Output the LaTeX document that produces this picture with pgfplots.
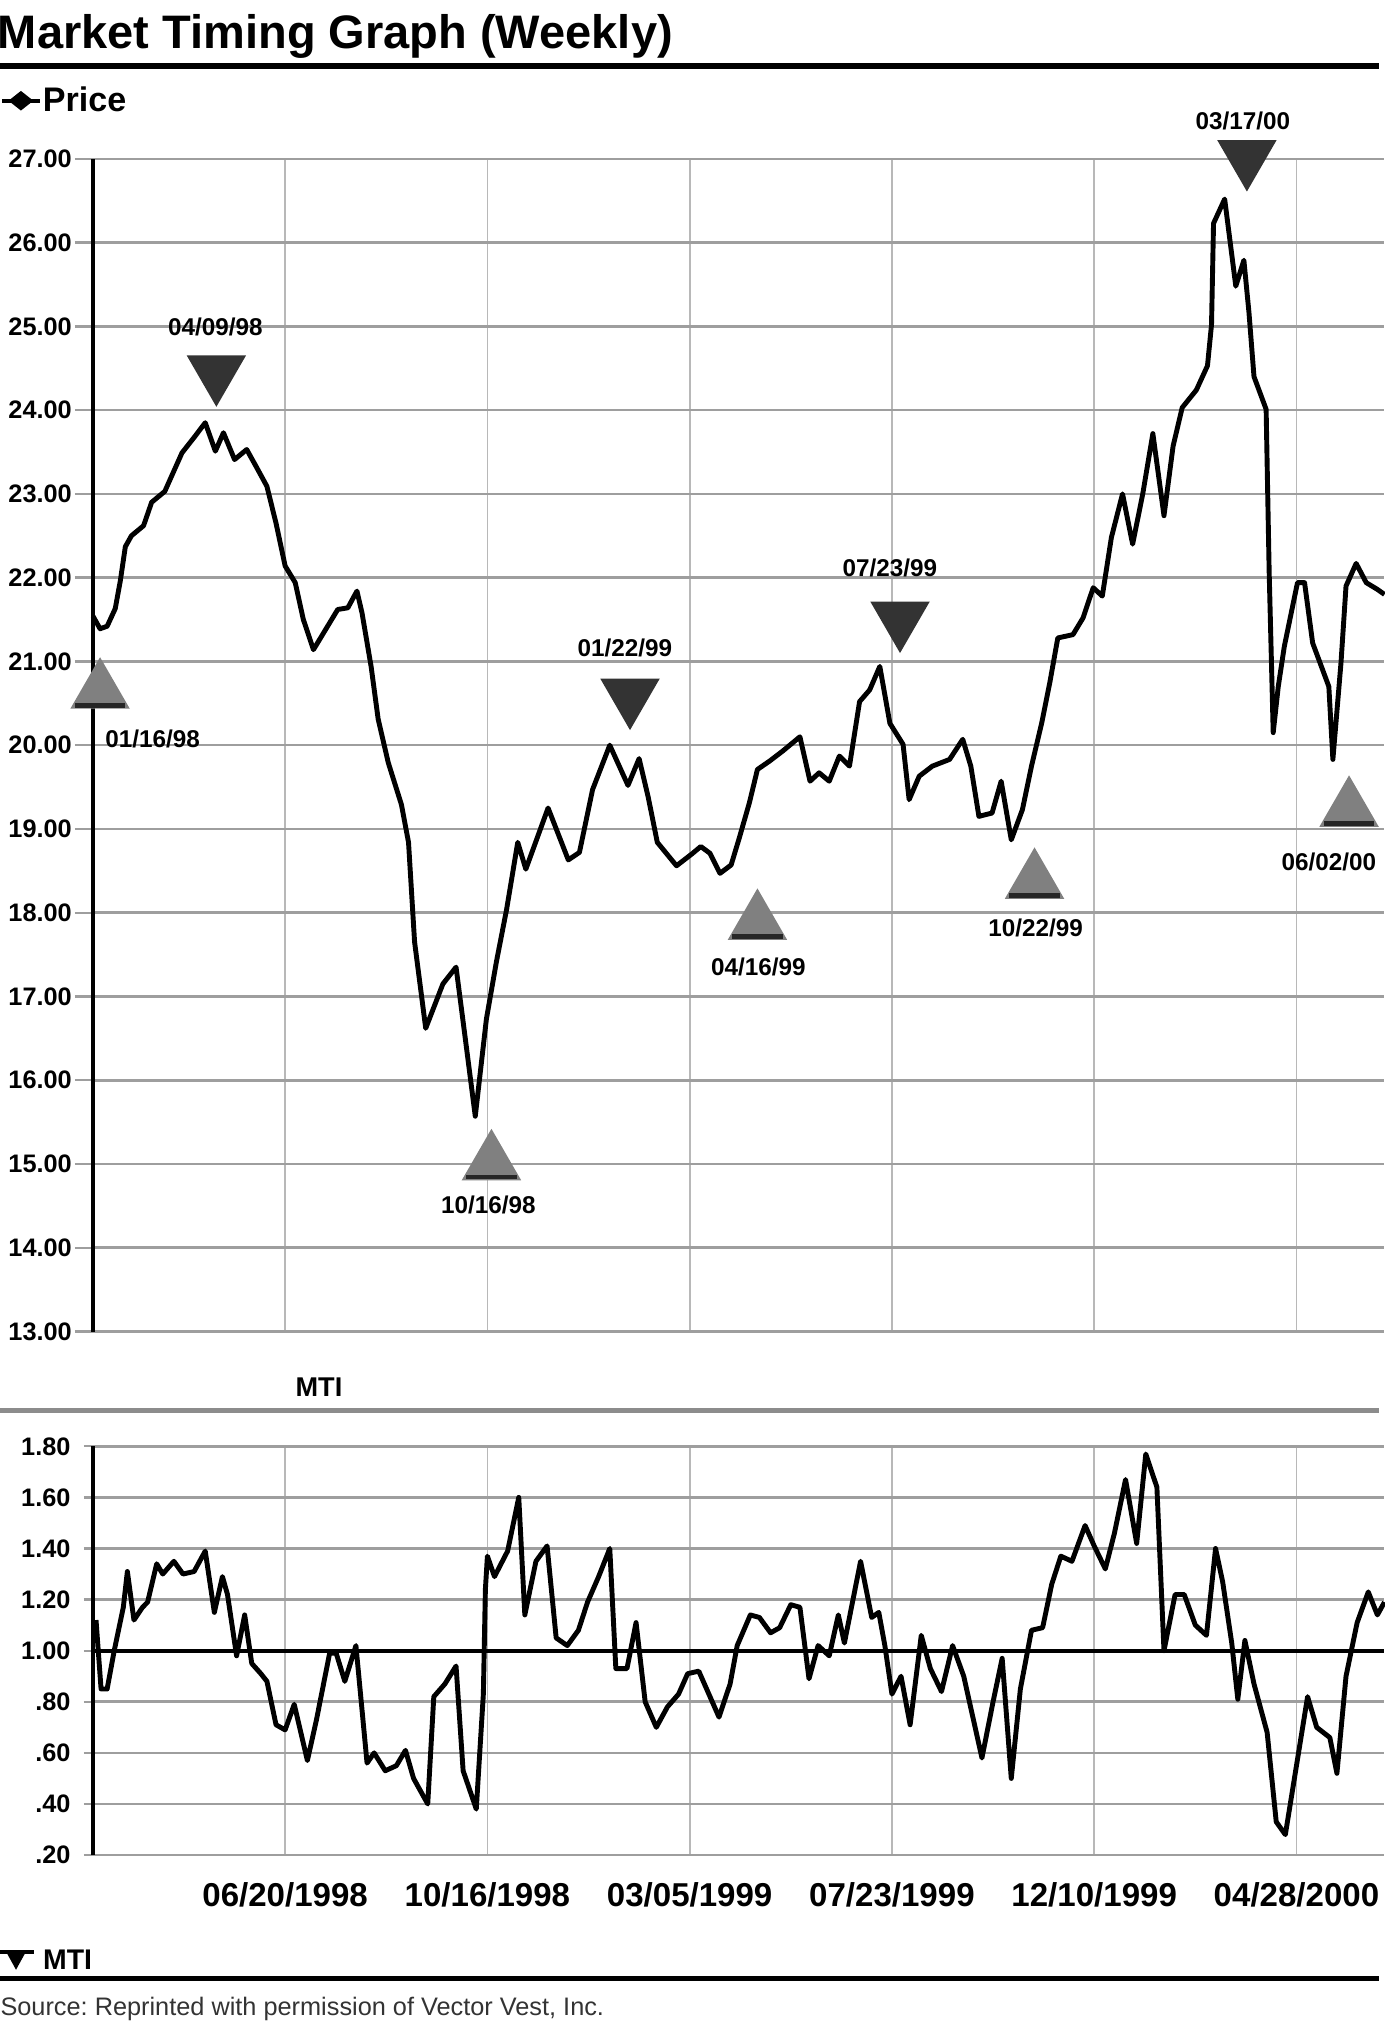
\documentclass[border=0pt]{standalone}
\usepackage{fontspec}
\setmainfont{Liberation Sans}
\usepackage{pgfplots}
\usepackage{pgfplotstable}
\pgfplotsset{compat=1.18}

\pgfplotstableread{
w p
0.0 21.54
0.7 21.39
1.4 21.42
2.2 21.63
2.7 21.96
3.2 22.37
3.8 22.50
5.0 22.62
5.8 22.90
7.1 23.03
8.8 23.49
10.1 23.69
11.1 23.85
12.1 23.51
12.9 23.73
14.0 23.41
15.2 23.53
16.3 23.29
17.2 23.09
18.1 22.65
19.0 22.14
20.0 21.94
20.8 21.50
21.8 21.14
22.9 21.36
24.2 21.62
25.2 21.64
26.1 21.84
26.6 21.58
27.5 20.94
28.2 20.31
29.2 19.79
30.5 19.29
31.2 18.84
31.8 17.65
32.9 16.62
34.6 17.15
35.9 17.35
36.8 16.51
37.8 15.57
38.9 16.73
39.9 17.42
40.9 18.04
42.0 18.84
42.8 18.52
45.0 19.25
47.0 18.63
48.1 18.72
49.4 19.47
51.1 20.00
52.9 19.52
54.0 19.84
54.9 19.38
55.8 18.84
57.7 18.56
59.2 18.70
60.1 18.79
61.0 18.71
62.0 18.47
63.1 18.57
63.9 18.89
64.9 19.31
65.7 19.71
66.9 19.81
68.2 19.93
69.9 20.10
70.9 19.57
71.8 19.67
72.8 19.57
73.8 19.87
74.8 19.75
75.8 20.52
76.8 20.66
77.8 20.94
78.8 20.26
80.1 20.01
80.7 19.35
81.7 19.63
83.0 19.75
84.7 19.83
86.0 20.07
86.8 19.75
87.6 19.15
88.9 19.19
89.8 19.57
90.8 18.87
91.9 19.23
92.8 19.75
93.8 20.26
94.6 20.74
95.4 21.28
96.9 21.32
97.9 21.52
98.9 21.88
99.8 21.78
100.7 22.48
101.8 23.00
102.8 22.40
103.8 23.00
104.8 23.72
105.9 22.74
106.8 23.57
107.7 24.03
109.1 24.24
110.2 24.53
110.6 25.02
110.8 26.23
111.9 26.52
113.0 25.48
113.8 25.79
114.3 25.17
114.8 24.40
116.0 24.01
116.3 22.07
116.7 20.15
117.2 20.70
117.8 21.18
119.1 21.94
119.8 21.94
120.6 21.22
122.2 20.70
122.6 19.83
123.4 20.98
123.9 21.90
124.9 22.17
125.9 21.94
127.0 21.86
127.7 21.80
}\pricedata

\pgfplotstableread{
w m
0.3 1.12
0.8 0.85
1.4 0.85
2.1 1.00
3.0 1.17
3.4 1.31
4.05 1.12
4.9 1.17
5.4 1.19
6.3 1.34
6.9 1.30
8.0 1.35
8.9 1.30
10.0 1.31
11.1 1.39
12.0 1.15
12.8 1.29
13.3 1.22
14.2 0.98
15.0 1.14
15.7 0.95
16.6 0.91
17.2 0.88
18.1 0.71
19.0 0.69
19.9 0.79
21.2 0.57
22.1 0.73
23.4 0.99
24.05 0.99
24.9 0.88
26.0 1.02
27.1 0.56
27.8 0.60
28.9 0.53
30.0 0.55
30.9 0.61
31.7 0.50
33.1 0.40
33.7 0.82
34.8 0.87
35.9 0.94
36.6 0.53
37.9 0.38
38.6 0.83
38.8 1.24
39.0 1.37
39.7 1.29
41.0 1.39
42.1 1.60
42.7 1.14
43.8 1.35
44.9 1.41
45.8 1.05
46.9 1.02
48.0 1.08
48.9 1.19
50.0 1.29
51.1 1.40
51.7 0.93
52.8 0.93
53.7 1.11
54.6 0.80
55.7 0.70
56.8 0.78
57.9 0.83
58.8 0.91
59.9 0.92
61.9 0.74
63.0 0.87
63.7 1.02
65.0 1.14
65.9 1.13
67.0 1.07
67.9 1.09
69.0 1.18
69.9 1.17
70.8 0.89
71.7 1.02
72.8 0.98
73.7 1.14
74.3 1.03
75.9 1.35
77.0 1.13
77.7 1.15
78.3 1.02
79.0 0.83
79.9 0.90
80.8 0.71
81.9 1.06
82.8 0.93
83.9 0.84
85.0 1.02
86.1 0.90
87.9 0.58
89.0 0.80
89.9 0.97
90.8 0.50
91.7 0.85
92.8 1.08
93.9 1.09
94.8 1.26
95.7 1.37
96.8 1.35
98.1 1.49
99.0 1.41
100.1 1.32
101.0 1.46
102.1 1.67
103.2 1.42
104.1 1.77
105.2 1.64
105.9 1.00
107.0 1.22
107.9 1.22
109.0 1.10
110.1 1.06
111.0 1.40
111.7 1.27
112.6 1.03
113.2 0.81
113.9 1.04
114.8 0.87
116.1 0.68
117.0 0.33
117.9 0.28
119.0 0.55
120.1 0.82
121.0 0.70
122.3 0.66
123.0 0.52
123.9 0.90
125.0 1.11
126.1 1.23
127.0 1.14
127.7 1.19
}\mtidata

\definecolor{hgrid}{gray}{0.62}
\definecolor{vgrid}{gray}{0.72}

\pgfdeclareplotmark{sigup}{%
  \pgfpathmoveto{\pgfqpoint{0pt}{\pgfplotmarksize}}%
  \pgfpathlineto{\pgfqpoint{0.866\pgfplotmarksize}{-0.5\pgfplotmarksize}}%
  \pgfpathlineto{\pgfqpoint{-0.866\pgfplotmarksize}{-0.5\pgfplotmarksize}}%
  \pgfpathclose
  \pgfsetfillcolor{black!50}%
  \pgfusepath{fill}%
  \pgfpathmoveto{\pgfqpoint{-0.74\pgfplotmarksize}{-0.4\pgfplotmarksize}}%
  \pgfpathlineto{\pgfqpoint{0.74\pgfplotmarksize}{-0.4\pgfplotmarksize}}%
  \pgfsetlinewidth{1.8pt}%
  \pgfsetstrokecolor{black!85}%
  \pgfusepath{stroke}%
}
\pgfdeclareplotmark{sigdown}{%
  \pgfpathmoveto{\pgfqpoint{0pt}{-\pgfplotmarksize}}%
  \pgfpathlineto{\pgfqpoint{0.866\pgfplotmarksize}{0.5\pgfplotmarksize}}%
  \pgfpathlineto{\pgfqpoint{-0.866\pgfplotmarksize}{0.5\pgfplotmarksize}}%
  \pgfpathclose
  \pgfsetfillcolor{black!80}%
  \pgfusepath{fill}%
}

\tikzset{siglbl/.style={font=\bfseries\fontsize{9.4}{10}\selectfont, inner sep=0pt}}

\pgfplotsset{
  mtbase/.style={
    scale only axis,
    width=500pt,
    anchor=south west,
    xmin=0, xmax=127.7,
    axis lines=left,
    axis line style={-},
    x axis line style={draw=none},
    y axis line style={-, black, line width=1.6pt},
    xtick={19,39,59,79,99,119},
    xtick style={draw=none},
    ytick style={hgrid, line width=0.9pt},
    tick align=outside,
    grid=major,
    x grid style={vgrid, line width=0.7pt},
    y grid style={hgrid, line width=1pt},
    clip=false,
    yticklabel style={font=\bfseries\fontsize{9.8}{10}\selectfont, inner sep=1pt},
  }
}

\begin{document}
\begin{tikzpicture}
\useasboundingbox (0pt,0pt) rectangle (536pt,-784pt);

% title and rule
\node[font=\bfseries\fontsize{18.2}{20}\selectfont, anchor=base west, inner sep=0pt] at (-1pt,-18.7pt) {Market Timing Graph (Weekly)};
\draw[line width=2.4pt] (0pt,-25.5pt) -- (534pt,-25.5pt);

% Price legend
\draw[line width=1.5pt] (0.8pt,-39pt) -- (15.5pt,-39pt);
\fill (3.3pt,-39pt) -- (8.1pt,-35.2pt) -- (12.9pt,-39pt) -- (8.1pt,-42.8pt) -- cycle;
\node[font=\bfseries\fontsize{13.2}{14}\selectfont, anchor=base west, inner sep=0pt] at (16.4pt,-43.2pt) {Price};

% upper axis
\begin{axis}[mtbase,
  at={(36pt,-515.5pt)}, height=454pt,
  ymin=13, ymax=27,
  ytick={13,14,15,16,17,18,19,20,21,22,23,24,25,26,27},
  yticklabels={13.00,14.00,15.00,16.00,17.00,18.00,19.00,20.00,21.00,22.00,23.00,24.00,25.00,26.00,27.00},
  xticklabels={},
  major tick length=7pt]
\addplot[black, line width=1.9pt, line join=round] table[x=w, y=p] {\pricedata};
\addplot[only marks, mark=sigup, mark size=13.3pt] coordinates {(0.70,20.64) (39.4,15.01) (65.7,17.88) (93.1,18.37) (124.2,19.23)};
\addplot[only marks, mark=sigdown, mark size=13.3pt] coordinates {(12.2,24.45) (53.1,20.59) (79.8,21.51) (114.1,27.02)};
\node[siglbl] at (axis cs:5.9,20.08) {01/16/98};
\node[siglbl] at (axis cs:12.1,24.99) {04/09/98};
\node[siglbl] at (axis cs:39.1,14.51) {10/16/98};
\node[siglbl] at (axis cs:52.6,21.16) {01/22/99};
\node[siglbl] at (axis cs:65.8,17.35) {04/16/99};
\node[siglbl] at (axis cs:78.8,22.12) {07/23/99};
\node[siglbl] at (axis cs:93.2,17.82) {10/22/99};
\node[siglbl] at (axis cs:113.7,27.45) {03/17/00};
\node[siglbl] at (axis cs:122.2,18.61) {06/02/00};
\end{axis}

% MTI title and gray rule
\node[font=\bfseries\fontsize{10.5}{12}\selectfont, inner sep=0pt] at (123.5pt,-537pt) {MTI};
\draw[line width=2pt, black!45] (0pt,-546pt) -- (534pt,-546pt);

% lower axis
\begin{axis}[mtbase,
  at={(36pt,-718.2pt)}, height=158.25pt,
  ymin=0.2, ymax=1.8,
  ytick={0.2,0.4,0.6,0.8,1.0,1.2,1.4,1.6,1.8},
  yticklabels={.20,.40,.60,.80,1.00,1.20,1.40,1.60,1.80},
  xticklabels={06/20/1998,10/16/1998,03/05/1999,07/23/1999,12/10/1999,04/28/2000},
  xticklabel style={font=\bfseries\fontsize{12.8}{14}\selectfont, anchor=base, yshift=-16.5pt},
  major tick length=3.5pt,
  yticklabel style={xshift=-4pt}]
\addplot[black, line width=1.5pt] coordinates {(0,1) (127.7,1)};
\addplot[black, line width=1.9pt, line join=round] table[x=w, y=m] {\mtidata};
\end{axis}

% MTI legend, bottom rule, source
\draw[line width=1.5pt] (0pt,-755.7pt) -- (13pt,-755.7pt);
\fill (2.4pt,-755.7pt) -- (10pt,-755.7pt) -- (6.2pt,-762.6pt) -- cycle;
\node[font=\bfseries\fontsize{11}{12}\selectfont, anchor=base west, inner sep=0pt] at (16.5pt,-762.5pt) {MTI};
\draw[line width=2.2pt] (0pt,-766pt) -- (534pt,-766pt);
\node[font=\fontsize{9.8}{10}\selectfont, anchor=base west, inner sep=0pt, text=black!80] at (0pt,-780.5pt) {Source:\ Reprinted with permission of Vector Vest, Inc.};
\end{tikzpicture}
\end{document}
